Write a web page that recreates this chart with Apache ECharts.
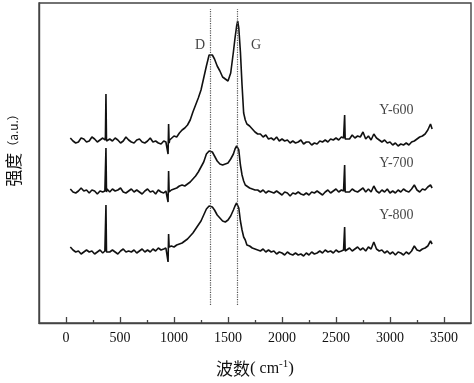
<!DOCTYPE html>
<html>
<head>
<meta charset="utf-8">
<script src="https://cdn.jsdelivr.net/npm/echarts@6/dist/echarts.min.js"></script>
<style>html,body{margin:0;padding:0;background:#fff;}#c{width:474px;height:383px;}</style>
</head>
<body>
<div id="c"></div>
<script>
// Raman shift (cm-1), shared by all three spectra
const waveNumbers = [
  40,65,90,115,140,165,190,215,240,265,290,315,340,
  360,365,370,375,380,
  405,430,455,480,505,530,555,580,605,630,655,680,705,730,755,780,805,830,855,880,905,
  925,940,945,950,955,960,
  975,1000,1025,1050,1075,1100,1125,1150,1175,1200,1225,1250,1275,1300,1325,
  1340,1355,1375,1400,1425,1450,1475,1500,1525,1550,1565,1580,1590,1600,1615,1630,1645,1660,1675,
  1700,1725,1750,1775,1800,1825,1850,1875,1900,1925,1950,1975,2000,2025,2050,2075,2100,2125,2150,2175,2200,2225,2250,2275,2300,2325,2350,2375,2400,2425,2450,2475,2500,2525,2550,
  2570,2575,2580,2585,
  2600,2625,2650,2675,2700,2725,2750,2775,2800,2825,2850,2875,2900,2925,2950,2975,3000,3025,3050,3075,3100,3125,3150,3175,3200,3225,3250,3275,3300,3325,3350,3375,3390
];
// intensities (a.u., stacked with offsets as in the figure)
const y600 = [
  185,182,180,181,185,184,181,182,186,184,181,183,185,
  183,186,229,182,184,
  184,182,185,183,180,182,186,183,181,180,183,184,181,180,182,185,181,182,180,179,182,
  181,180,169,199,180,183,
  185,187,186,190,193,195,198,203,211,218,225,233,245,257,268,
  270,268,264,257,252,246,244,242,250,271,285,297,302,295,271,238,210,203,199,
  197,194,191,189,189,186,188,184,185,183,186,182,184,182,183,180,182,180,181,183,179,181,181,178,180,179,182,181,183,181,184,183,185,183,186,
  185,187,208,184,
  186,184,188,185,187,186,191,184,187,183,189,185,183,181,183,180,181,178,180,177,179,178,180,178,181,182,184,186,187,189,193,199,194
];
const y700 = [
  134,131,130,132,135,132,133,130,133,132,129,132,131,
  132,130,175,131,134,
  131,134,132,133,135,131,130,132,134,131,133,131,129,132,134,131,132,129,133,131,130,
  132,130,121,152,131,133,
  133,134,135,137,138,137,139,141,144,147,151,156,161,169,172,
  173,171,167,162,159,158,159,160,164,169,174,177,178,173,158,148,142,138,136,
  135,134,133,133,131,133,130,132,131,130,132,130,128,131,130,127,130,129,131,129,128,130,128,131,130,132,130,128,131,133,130,132,134,131,133,
  132,134,158,131,
  133,131,134,132,131,133,135,131,134,131,137,132,130,133,131,134,130,132,130,133,131,134,132,131,134,138,133,131,134,133,136,138,135
];
const y800 = [
  76,73,71,72,69,71,73,71,72,69,71,73,70,
  72,70,118,71,73,
  71,73,71,69,72,74,71,72,71,73,70,72,74,71,73,71,74,72,75,73,74,
  75,74,61,89,76,77,
  77,76,78,79,80,82,84,87,90,94,98,102,108,114,117,
  118,116,113,108,105,102,101,103,107,113,117,120,121,115,102,93,86,83,78,
  77,75,74,73,72,74,71,73,71,72,69,71,70,68,71,69,68,70,68,69,67,70,68,71,69,70,72,70,73,71,72,70,73,71,72,
  73,71,96,72,
  73,75,72,74,76,73,75,72,76,74,81,74,72,73,70,72,69,71,68,71,70,68,71,69,72,77,73,72,74,75,77,82,79
];
const seriesNames = ['Y-600','Y-700','Y-800'];
const peakPositions = [1340, 1585];       // D and G band guide lines
const peakNames = ['D','G'];
const tickLabels = [0,500,1000,1500,2000,2500,3000,3500];
const minorTicks = [250,750,1250,1750,2250,2750,3250];

const pair = ys => waveNumbers.map((x,i)=>[x, ys[i]]);
const serif = '"Liberation Serif","DejaVu Serif",serif';
const cjk = '"Noto Sans CJK SC",sans-serif';

const chart = echarts.init(document.getElementById('c'));
chart.setOption({
  animation:false,
  backgroundColor:'#fff',
  grid:{left:39, right:3, top:3, bottom:60, outerBoundsMode:'none', containLabel:false,
        show:true, borderColor:'#444', borderWidth:1.4, backgroundColor:'transparent'},
  xAxis:[{
    type:'value', min:-250, max:3750, interval:250,
    axisLine:{show:true, onZero:false, lineStyle:{color:'#444', width:1.4}},
    axisTick:{show:true, inside:true, length:6, customValues:tickLabels, lineStyle:{color:'#444', width:1.3}},
    axisLabel:{customValues:tickLabels, formatter:v=>String(v), color:'#111', fontFamily:serif, fontSize:14, margin:8},
    splitLine:{show:false},
    name:'波数{p|(} {c|cm}{sup|-1}{p|)}', nameLocation:'middle', nameGap:36,
    nameTextStyle:{color:'#111', fontFamily:cjk, fontSize:17,
      rich:{p:{fontSize:17, fontFamily:serif, color:'#111'},
            c:{fontSize:16, fontFamily:serif, color:'#111'},
            sup:{fontSize:11, verticalAlign:'top', padding:[0,0,9,0], fontFamily:serif, color:'#111'}}}
  },{
    type:'value', min:-250, max:3750, interval:250, position:'bottom',
    axisLine:{show:false, onZero:false},
    axisTick:{show:true, inside:true, length:3, customValues:minorTicks, lineStyle:{color:'#444', width:1.3}},
    axisLabel:{show:false}, splitLine:{show:false}
  }],
  yAxis:{
    type:'value', min:0, max:320,
    axisLine:{show:true, onZero:false, lineStyle:{color:'#444', width:1.4}},
    axisTick:{show:false}, axisLabel:{show:false}, splitLine:{show:false},
    name:'强度{s|（a.u.）}', nameLocation:'middle', nameGap:17,
    nameTextStyle:{color:'#111', fontFamily:cjk, fontSize:17, padding:[0,0,0,31],
      rich:{s:{fontSize:12, fontFamily:cjk, color:'#111'}}}
  },
  series:[
    {
      type:'line', name:seriesNames[0], data:pair(y600), showSymbol:false, symbol:'none',
      lineStyle:{color:'#111', width:1.6},
      markLine:{
        silent:true, symbol:'none', label:{show:false},
        lineStyle:{color:'#555', type:'dotted', width:1.2},
        data: peakPositions.map(p=>[{coord:[p,18]},{coord:[p,314]}])
      }
    },
    {type:'line', name:seriesNames[1], data:pair(y700), showSymbol:false, symbol:'none', lineStyle:{color:'#111', width:1.6}},
    {type:'line', name:seriesNames[2], data:pair(y800), showSymbol:false, symbol:'none', lineStyle:{color:'#111', width:1.6}},
    {
      type:'scatter', symbolSize:0, silent:true,
      data:[
        [3060,213,seriesNames[0]],[3060,160,seriesNames[1]],[3060,108,seriesNames[2]],
        [1241,278,peakNames[0]],[1759,278,peakNames[1]]
      ],
      label:{show:true, position:'inside', formatter:p=>p.data[2], color:'#111', fontFamily:serif, fontSize:14}
    }
  ]
});
</script>
</body>
</html>
